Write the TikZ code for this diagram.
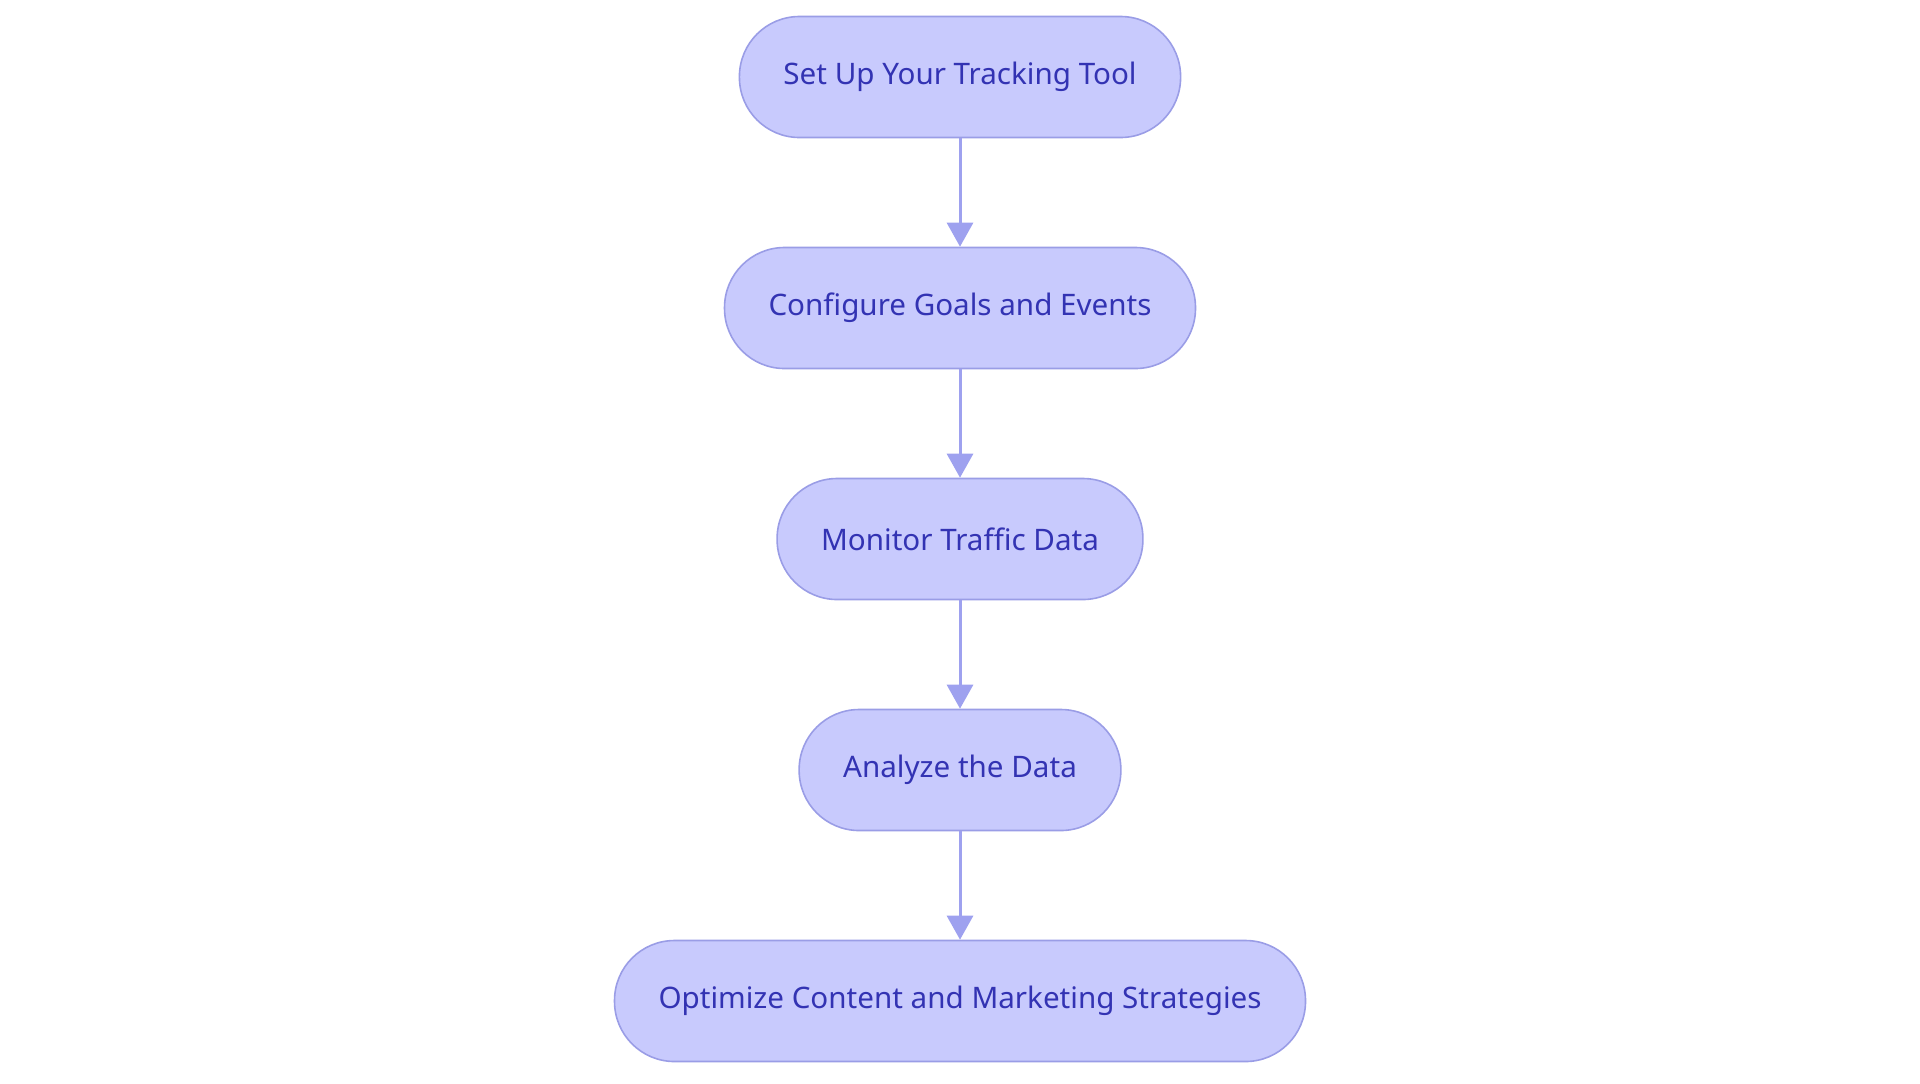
\documentclass[tikz,border=0pt]{standalone}
\usepackage{fontspec}
\setmainfont{Noto Sans}
\usepackage{tikz}
\usetikzlibrary{arrows.meta}
\definecolor{boxfill}{HTML}{C8CAFD}
\definecolor{boxline}{HTML}{9A9DE6}
\definecolor{boxtext}{HTML}{3333B3}
\definecolor{arrowcol}{HTML}{9EA1EF}
\tikzset{
  stepbox/.style={draw=boxline, fill=boxfill, line width=0.8pt, rounded corners=30pt,
    minimum height=60.5pt, inner xsep=22pt, text=boxtext,
    font=\fontsize{14.8}{17}\selectfont},
  flowarrow/.style={draw=arrowcol, line width=1.5pt, -{Triangle[width=13pt,length=12pt]}}
}
\begin{document}
\begin{tikzpicture}[x=0.5pt, y=-0.5pt]
\useasboundingbox (0,0) rectangle (1920,1083);
%%%%%%%%%%%%%%%%%%%%%%%%%%%%%%%
% steps
%%%%%%%%%%%%%%%%%%%%%%%%%%%%%%%
\node [stepbox] (setup)    at (960, 77)   {Set Up Your Tracking Tool};
\node [stepbox] (goals)    at (960, 308)  {Configure Goals and Events};
\node [stepbox] (monitor)  at (960, 539)  {Monitor Traffic Data};
\node [stepbox] (analyze)  at (960, 770)  {Analyze the Data};
\node [stepbox] (optimize) at (960, 1001) {Optimize Content and Marketing Strategies};
%
\draw [flowarrow] (setup) -- (goals);
\draw [flowarrow] (goals) -- (monitor);
\draw [flowarrow] (monitor) -- (analyze);
\draw [flowarrow] (analyze) -- (optimize);
%%%%%%%%%%%%%%%%%%%%%%%%%%%%%%%
\end{tikzpicture}
\end{document}
